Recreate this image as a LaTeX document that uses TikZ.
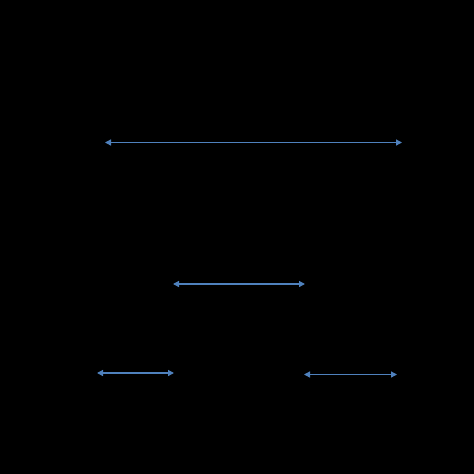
\documentclass[tikz,border=0pt]{standalone}
\usetikzlibrary{arrows.meta}
\definecolor{arrowblue}{HTML}{4F81BD}
\tikzset{dblarrow/.style={draw=arrowblue, line width=1.3pt, {Triangle[length=6pt,width=6pt]}-{Triangle[length=6pt,width=6pt]}}}
\begin{document}
\begin{tikzpicture}[x=1pt,y=-1pt]
\fill[black] (0,0) rectangle (474,474);
\useasboundingbox (0,0) rectangle (474,474);
\coordinate (a1) at (105,142.5);
\coordinate (b1) at (402,142.5);
\coordinate (a2) at (173,284);
\coordinate (b2) at (305,284);
\coordinate (a3) at (97,373);
\coordinate (b3) at (174,373);
\coordinate (a4) at (304,374.5);
\coordinate (b4) at (397,374.5);
\draw[dblarrow] (a1) -- (b1);
\draw[dblarrow] (a2) -- (b2);
\draw[dblarrow] (a3) -- (b3);
\draw[dblarrow] (a4) -- (b4);
\end{tikzpicture}
\end{document}
